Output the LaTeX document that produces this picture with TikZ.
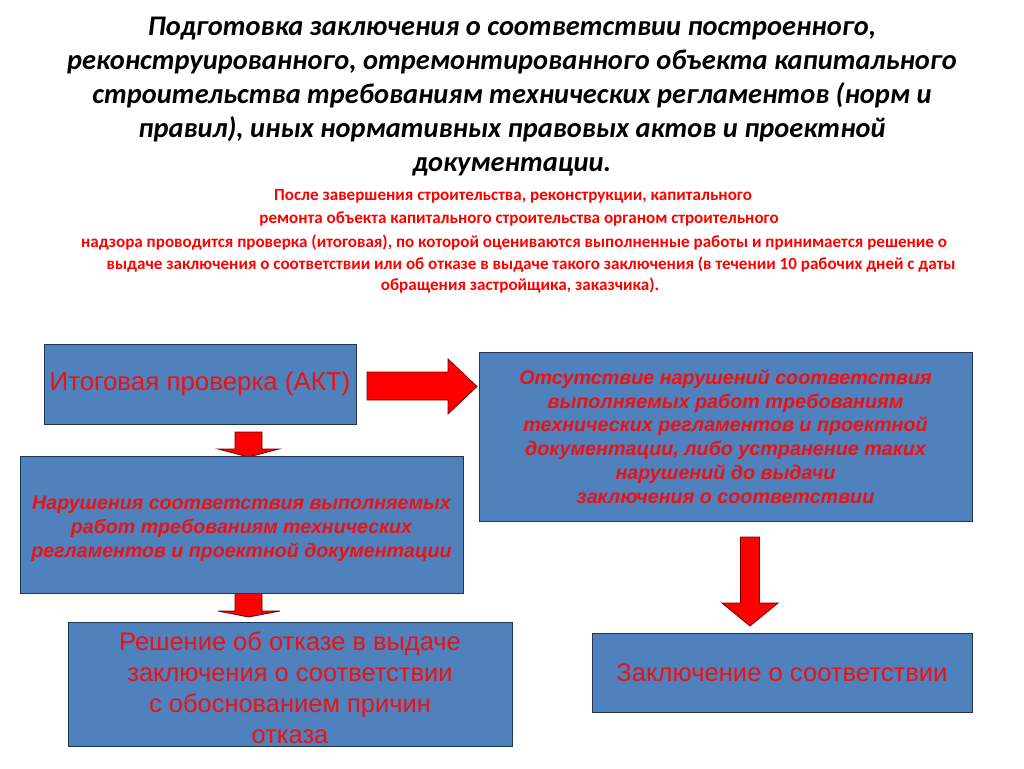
\documentclass[tikz,border=0pt]{standalone}
\usepackage{fontspec}
\setmainfont{Liberation Sans}
\newfontfamily\calibri{Carlito}
\definecolor{boxblue}{HTML}{4F81BD}
\definecolor{boxline}{HTML}{1F3556}
\definecolor{textred}{HTML}{EE1111}
\definecolor{arrowline}{HTML}{6E0000}
\begin{document}
\begin{tikzpicture}[x=0.75pt, y=-0.75pt,
    box/.style={draw=boxline, fill=boxblue, line width=0.75pt, inner sep=0pt, align=center, text=textred},
    note/.style={anchor=base, text=red, font=\calibri\bfseries\fontsize{12.8}{14}\selectfont},
    redarrow/.style={fill=red, draw=arrowline, line width=0.6pt}]
\useasboundingbox (0,0) rectangle (1024,768);

% heading
\node[align=center, font=\calibri\bfseries\itshape\fontsize{21.3}{25.5}\selectfont] (title) at (512,97)
    {Подготовка заключения о соответствии построенного,\\
     реконструированного, отремонтированного объекта капитального\\
     строительства требованиям технических регламентов (норм и\\
     правил), иных нормативных правовых актов и проектной\\
     документации.};
\node[note] (note1) at (513,200) {После завершения строительства, реконструкции, капитального};
\node[note] (note2) at (519,223) {ремонта объекта капитального строительства органом строительного};
\node[note] (note3) at (514,247) {надзора проводится проверка (итоговая), по которой оцениваются выполненные работы и принимается решение о};
\node[note] (note4) at (531,269) {выдаче заключения о соответствии или об отказе в выдаче такого заключения (в течении 10 рабочих дней с даты};
\node[note] (note5) at (520,290) {обращения застройщика, заказчика).};

% arrows
\filldraw[redarrow] (367,372) -- (448,372) -- (448,359) -- (477,386.5) -- (448,414) -- (448,400) -- (367,400) -- cycle;
\filldraw[redarrow] (235,432) -- (262,432) -- (262,449) -- (279,449) -- (248.5,457) -- (218,449) -- (235,449) -- cycle;
\filldraw[redarrow] (235,593) -- (262,593) -- (262,611) -- (280,611) -- (248.5,617) -- (218,611) -- (235,611) -- cycle;
\filldraw[redarrow] (740.5,537) -- (759.5,537) -- (759.5,603) -- (778,603) -- (750,626) -- (722,603) -- (740.5,603) -- cycle;

% boxes
\node[box, minimum width=234pt, minimum height=60pt, font=\fontsize{19.4}{21}\selectfont] (akt) at (200,384)
    {Итоговая проверка (АКТ)};
\node[box, minimum width=332.25pt, minimum height=102.75pt, font=\bfseries\itshape\fontsize{14.7}{18}\selectfont] (viol) at (241.5,524.5)
    {\rule{0pt}{17pt}Нарушения соответствия выполняемых\\ работ требованиям технических\\ регламентов и проектной документации};
\node[box, minimum width=333pt, minimum height=93pt, font=\fontsize{19.1}{23.25}\selectfont] (refuse) at (290,684)
    {\rule{0pt}{20pt}Решение об отказе в выдаче\\ заключения о соответствии\\ с обоснованием причин\\ отказа};
\node[box, minimum width=369.75pt, minimum height=126.75pt, font=\bfseries\itshape\fontsize{14.8}{17.85}\selectfont] (noviol) at (725.5,436.5)
    {Отсутствие нарушений соответствия\\ выполняемых работ требованиям\\ технических регламентов и проектной\\ документации, либо устранение таких\\ нарушений до выдачи\\ заключения о соответствии};
\node[box, minimum width=285pt, minimum height=59.25pt, font=\fontsize{19.2}{21}\selectfont] (concl) at (782,672.5)
    {Заключение о соответствии};
\end{tikzpicture}
\end{document}
